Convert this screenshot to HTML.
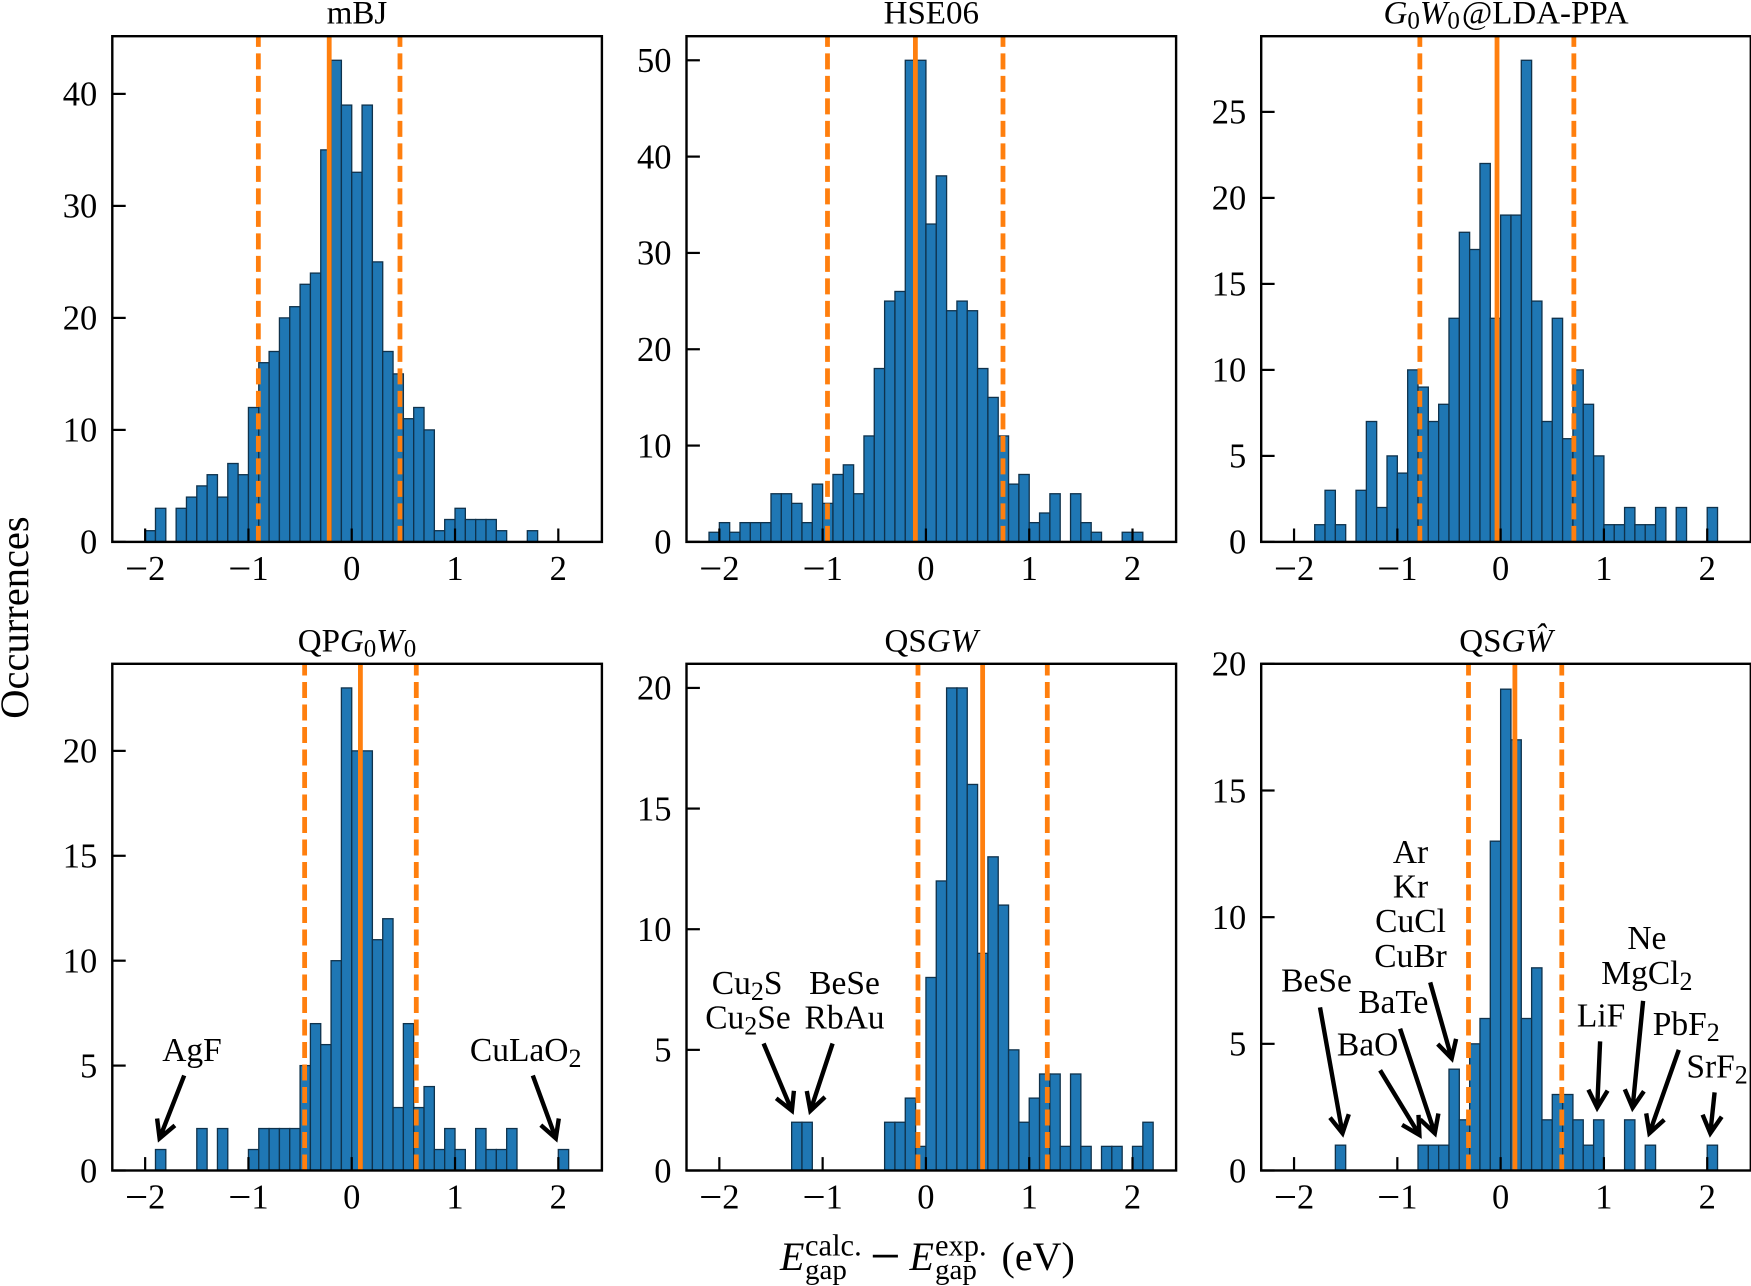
<!DOCTYPE html>
<html lang="en">
<head>
<meta charset="utf-8">
<title>Band gap error histograms</title>
<style>
html,body{margin:0;padding:0;background:#fff;}
svg{display:block;}
text{font-family:"Liberation Serif","Times New Roman",serif;fill:#000;}
</style>
</head>
<body>
<svg id="chart" xmlns="http://www.w3.org/2000/svg" width="1751" height="1286" viewBox="0 0 1751 1286">
  <rect x="0" y="0" width="1751" height="1286" fill="#fff"/>
  <g id="panels"></g>
  <g font-size="33" text-anchor="middle">
    <text x="357" y="23.5">mBJ</text>
    <text x="931.3" y="23.5">HSE06</text>
    <text x="1506" y="23.5"><tspan font-style="italic">G</tspan><tspan font-size="25" dy="5">0</tspan><tspan font-style="italic" dy="-5">W</tspan><tspan font-size="25" dy="5">0</tspan><tspan dy="-5" dx="2">@LDA-PPA</tspan></text>
    <text x="357" y="651.5">QP<tspan font-style="italic">G</tspan><tspan font-size="25" dy="5">0</tspan><tspan font-style="italic" dy="-5">W</tspan><tspan font-size="25" dy="5">0</tspan></text>
    <text x="931.3" y="651.5">QS<tspan font-style="italic">GW</tspan></text>
    <text x="1506" y="651.5">QS<tspan font-style="italic">GŴ</tspan></text>
  </g>
  <text font-size="40.5" text-anchor="middle" transform="translate(28 617.5) rotate(-90)">Occurrences</text>
  <g font-size="40">
    <text x="780" y="1270" font-style="italic">E</text>
    <text x="805" y="1255.5" font-size="30.5">calc.</text>
    <text x="805" y="1279" font-size="29">gap</text>
    <text x="870" y="1274" font-size="54">−</text>
    <text x="909.5" y="1270" font-style="italic">E</text>
    <text x="935" y="1255.5" font-size="30.5">exp.</text>
    <text x="935" y="1279" font-size="29">gap</text>
    <text x="1001.5" y="1270">(eV)</text>
  </g>
</svg>
<script>
// ---- chart data ----
const panelNames = ['mbj', 'hse06', 'g0w0-lda-ppa', 'qpg0w0', 'qsgw', 'qsgw-hat'];
const binWidth = 0.1;
const firstBinEdges = [-2.0, -2.1, -1.8, -1.9, -1.3, -1.6];
const mbjCounts = [1,3,0,3,4,5,6,4,7,6,12,16,17,20,21,23,24,35,43,39,33,39,25,17,15,11,12,10,1,2,3,2,2,2,1,0,0,1];
const hseCounts = [1,2,1,2,2,2,5,5,4,2,6,4,7,8,5,11,18,25,26,50,50,33,38,24,25,24,18,15,11,6,7,2,3,5,0,5,2,1,0,0,1,1];
const g0w0Counts = [1,3,1,0,3,7,2,5,4,10,9,7,8,13,18,17,22,13,19,19,28,14,7,13,6,10,8,5,1,1,2,1,1,2,0,2,0,0,2];
const qpCounts = [1,0,0,0,2,0,2,0,0,1,2,2,2,2,5,7,6,10,23,20,20,11,12,3,7,3,4,1,2,1,0,2,1,1,2,0,0,0,0,1];
const qsgwCounts = [2,2,0,0,0,0,0,0,0,2,2,3,1,8,12,20,20,16,9,13,11,5,2,3,4,4,1,4,1,0,1,1,0,1,2];
const qsgwHatCounts = [1,0,0,0,0,0,0,0,1,1,1,4,2,5,6,13,19,17,6,8,2,3,3,2,1,2,0,0,2,0,1,0,0,0,0,0,1];
const allCounts = [mbjCounts, hseCounts, g0w0Counts, qpCounts, qsgwCounts, qsgwHatCounts];
const meanValues = [-0.218, -0.102, -0.035, 0.084, 0.549, 0.138];
const lowerValues = [-0.904, -0.953, -0.782, -0.456, -0.077, -0.311];
const upperValues = [0.467, 0.746, 0.709, 0.625, 1.175, 0.592];
const xTickValues = [-2, -1, 0, 1, 2];
const yTicksMbj = [0, 10, 20, 30, 40];
const yTicksHse = [0, 10, 20, 30, 40, 50];
const yTicksG0w0 = [0, 5, 10, 15, 20, 25];
const yTicksQp = [0, 5, 10, 15, 20];
const yTicksQsgw = [0, 5, 10, 15, 20];
const yTicksQsgwHat = [0, 5, 10, 15, 20];
const allYTicks = [yTicksMbj, yTicksHse, yTicksG0w0, yTicksQp, yTicksQsgw, yTicksQsgwHat];
const yLimitFactor = [1.05, 1.05, 1.05, 1.05, 1.05, 1.0527];

// ---- layout ----
const SVGNS = 'http://www.w3.org/2000/svg';
const root = document.getElementById('panels');
const axLefts = [112.3, 686.5, 1261.2];
const rowTops = [36.2, 663.8];
const rowBottoms = [541.9, 1170.5];
const axWidth = 489.6;
const xMin = -2.318;
const xMax = 2.422;
const panelGroups = [];
const scales = [];

function make(tag, parent, attrs) {
  const e = document.createElementNS(SVGNS, tag);
  for (const k in attrs) e.setAttribute(k, attrs[k]);
  parent.appendChild(e);
  return e;
}
function writeTick(textEl, v) {
  if (v < 0) {
    const m = make('tspan', textEl, { 'font-size': 41, dy: 1.9 });
    m.textContent = '\u2212';
    const d = make('tspan', textEl, { dy: -1.9 });
    d.textContent = String(Math.abs(v));
  } else {
    textEl.textContent = String(v);
  }
}

panelNames.forEach(function (name, i) {
  const col = i % 3;
  const row = Math.floor(i / 3);
  const left = axLefts[col];
  const right = left + axWidth;
  const top = rowTops[row];
  const bottom = rowBottoms[row];
  const counts = allCounts[i];
  const yMax = Math.max.apply(null, counts) * yLimitFactor[i];
  const xs = function (v) { return left + (v - xMin) / (xMax - xMin) * axWidth; };
  const ys = function (v) { return bottom - v / yMax * (bottom - top); };
  scales.push({ x: xs, y: ys });

  const g = make('g', root, {});
  
  
  panelGroups.push(g);

  // bars
  counts.forEach(function (c, k) {
    if (c <= 0) return;
    const e0 = firstBinEdges[i] + k * binWidth;
    const r = make('rect', g, {
      x: xs(e0).toFixed(2),
      y: ys(c).toFixed(2),
      width: (xs(e0 + binWidth) - xs(e0)).toFixed(2),
      height: (ys(0) - ys(c)).toFixed(2),
      fill: '#1f77b4',
      stroke: '#0f324c',
      'stroke-width': 1.3
    });
    
    
  });

  // reference lines
  const meanLine = make('line', g, { x1: xs(meanValues[i]), x2: xs(meanValues[i]), y1: bottom, y2: top, stroke: '#ff7f0e', 'stroke-width': 4.8 });
  
  
  const lowLine = make('line', g, { x1: xs(lowerValues[i]), x2: xs(lowerValues[i]), y1: bottom, y2: top, stroke: '#ff7f0e', 'stroke-width': 4.8, 'stroke-dasharray': '16 6.5' });
  
  
  const highLine = make('line', g, { x1: xs(upperValues[i]), x2: xs(upperValues[i]), y1: bottom, y2: top, stroke: '#ff7f0e', 'stroke-width': 4.8, 'stroke-dasharray': '16 6.5' });
  
  

  // x ticks
  xTickValues.forEach(function (v) {
    const t = make('line', g, { x1: xs(v), x2: xs(v), y1: bottom, y2: bottom - 13.4, stroke: '#000', 'stroke-width': 2.2 });
    
    
    const l = make('text', g, { x: xs(v), y: bottom + 38, 'font-size': 34.5, 'text-anchor': 'middle' });
    writeTick(l, v);
    
    
  });

  // y ticks
  allYTicks[i].forEach(function (v) {
    const t = make('line', g, { x1: left, x2: left + 13.4, y1: ys(v), y2: ys(v), stroke: '#000', 'stroke-width': 2.2 });
    
    
    const l = make('text', g, { x: left - 15, y: ys(v) + 11.8, 'font-size': 34.5, 'text-anchor': 'end' });
    writeTick(l, v);
    
    
  });

  // frame
  const frame = make('rect', g, { x: left, y: top, width: axWidth, height: bottom - top, fill: 'none', stroke: '#000', 'stroke-width': 2.4 });
  
  
});

// ---- annotations (all positions in data coordinates of the panel) ----
function label(panel, parts, x, y) {
  const s = scales[panel];
  const t = make('text', panelGroups[panel], { x: s.x(x).toFixed(1), y: s.y(y).toFixed(1), 'font-size': 33.5, 'text-anchor': 'middle' });
  let shifted = false;
  parts.forEach(function (p) {
    const sp = make('tspan', t, {});
    if (Array.isArray(p)) {
      sp.setAttribute('font-size', '26');
      sp.setAttribute('dy', '6');
      sp.textContent = p[0];
      shifted = true;
    } else {
      if (shifted) { sp.setAttribute('dy', '-6'); shifted = false; }
      sp.textContent = p;
    }
  });
  
  
}
function arrow(panel, tailX, tailY, tipX, tipY) {
  const s = scales[panel];
  const x1 = s.x(tailX), y1 = s.y(tailY), x2 = s.x(tipX), y2 = s.y(tipY);
  const a = Math.atan2(y2 - y1, x2 - x1);
  const arm = 20, spread = 0.5;
  const d = 'M' + x1.toFixed(1) + ' ' + y1.toFixed(1) + 'L' + x2.toFixed(1) + ' ' + y2.toFixed(1) +
    'M' + (x2 - arm * Math.cos(a - spread)).toFixed(1) + ' ' + (y2 - arm * Math.sin(a - spread)).toFixed(1) +
    'L' + x2.toFixed(1) + ' ' + y2.toFixed(1) +
    'L' + (x2 - arm * Math.cos(a + spread)).toFixed(1) + ' ' + (y2 - arm * Math.sin(a + spread)).toFixed(1);
  const p = make('path', panelGroups[panel], { d: d, fill: 'none', stroke: '#000', 'stroke-width': 4.4, 'stroke-linejoin': 'miter' });
  
  
}

label(3, ['AgF'], -1.546, 5.22);
arrow(3, -1.622, 4.53, -1.86, 1.535);
label(3, ['CuLaO', ['2']], 1.684, 5.22);
arrow(3, 1.753, 4.53, 1.976, 1.535);

label(4, ['Cu', ['2'], 'S'], -1.731, 7.32);
label(4, ['Cu', ['2'], 'Se'], -1.723, 5.876);
label(4, ['BeSe'], -0.788, 7.32);
label(4, ['RbAu'], -0.788, 5.876);
arrow(4, -1.572, 5.263, -1.298, 2.478);
arrow(4, -0.904, 5.263, -1.118, 2.478);

label(5, ['BeSe'], -1.783, 7.06);
arrow(5, -1.749, 6.44, -1.531, 1.473);
label(5, ['BaO'], -1.288, 4.544);
arrow(5, -1.167, 3.956, -0.786, 1.405);
label(5, ['BaTe'], -1.039, 6.218);
arrow(5, -0.973, 5.598, -0.637, 1.473);
label(5, ['Ar'], -0.873, 12.14);
label(5, ['Kr'], -0.873, 10.78);
label(5, ['CuCl'], -0.873, 9.408);
label(5, ['CuBr'], -0.873, 8.03);
arrow(5, -0.682, 7.426, -0.474, 4.426);
label(5, ['LiF'], 0.973, 5.685);
arrow(5, 0.963, 5.097, 0.935, 2.479);
label(5, ['Ne'], 1.416, 8.737);
label(5, ['MgCl', ['2']], 1.416, 7.363);
arrow(5, 1.379, 6.696, 1.278, 2.479);
label(5, ['PbF', ['2']], 1.798, 5.349);
arrow(5, 1.725, 4.761, 1.44, 1.473);
label(5, ['SrF', ['2']], 2.096, 3.672);
arrow(5, 2.072, 3.083, 2.03, 1.473);
</script>
</body>
</html>
